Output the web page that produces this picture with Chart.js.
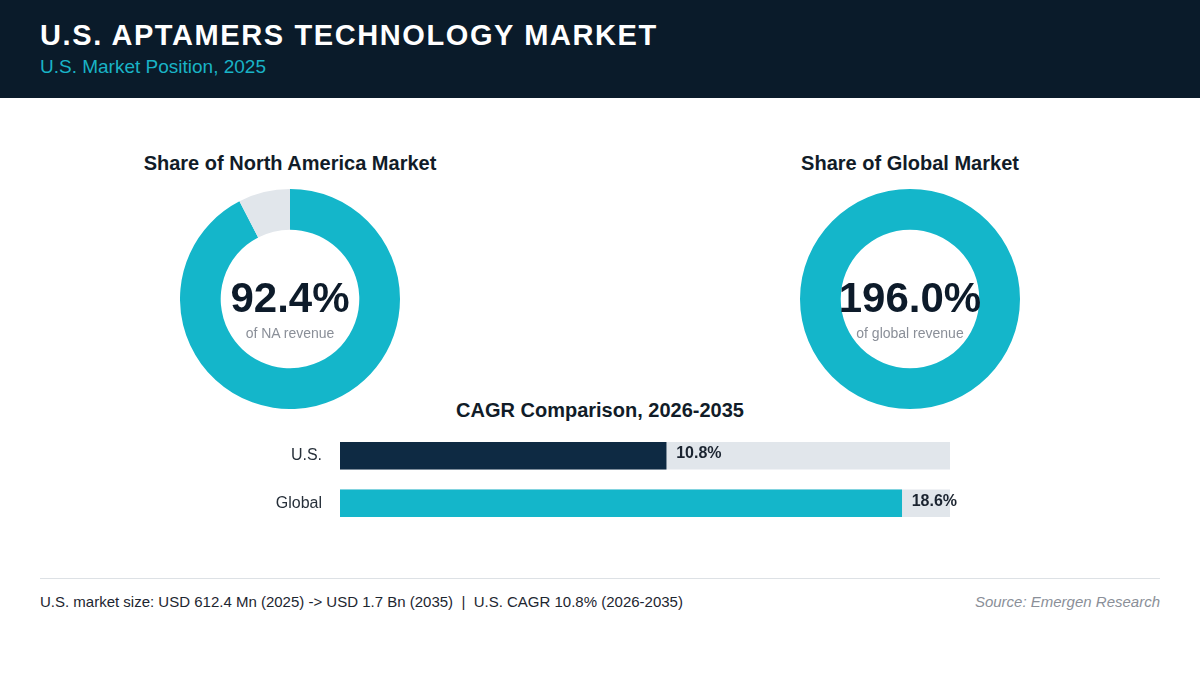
<!DOCTYPE html>
<html>
<head>
<meta charset="utf-8">
<script src="https://cdn.jsdelivr.net/npm/chart.js@4/dist/chart.umd.min.js"></script>
<style>
  html, body { margin: 0; padding: 0; }
  body {
    width: 1200px; height: 675px; position: relative; overflow: hidden;
    background: #ffffff; font-family: "Liberation Sans", Arial, sans-serif;
  }
  .header { position: absolute; left: 0; top: 0; width: 1200px; height: 98px; background: #0a1b2a; }
  .header h1 {
    position: absolute; left: 40px; top: 19px; margin: 0;
    font-size: 29px; font-weight: bold; color: #ffffff; letter-spacing: 1.6px;
  }
  .header .sub { position: absolute; left: 40px; top: 56px; font-size: 19px; color: #19b3c6; }
  .title { position: absolute; font-size: 20px; font-weight: bold; color: #111c28; text-align: center; }
  .donut { position: absolute; }
  .center { position: absolute; width: 220px; text-align: center; }
  .center .big { font-size: 42px; font-weight: bold; color: #0d1b2a; line-height: 44px; }
  .center .small { font-size: 14px; color: #8a8f98; margin-top: 5px; }
  #cagrChart { position: absolute; left: 240px; top: 432px; }
  .rule { position: absolute; left: 40px; top: 578px; width: 1120px; height: 1px; background: #dde1e5; }
  .foot { position: absolute; top: 593px; font-size: 15px; color: #1d2630; }
  .src { right: 40px; color: #8a8f98; font-style: italic; }
</style>
</head>
<body>
<div class="header">
  <h1>U.S. APTAMERS TECHNOLOGY MARKET</h1>
  <div class="sub">U.S. Market Position, 2025</div>
</div>

<div class="title" style="left:90px; top:152px; width:400px;">Share of North America Market</div>
<div class="title" style="left:710px; top:152px; width:400px;">Share of Global Market</div>

<canvas id="naDonut" class="donut" width="220" height="220" style="left:180px; top:189px;"></canvas>
<canvas id="globalDonut" class="donut" width="220" height="220" style="left:800px; top:189px;"></canvas>

<div class="center" style="left:180px; top:276px;">
  <div class="big" id="naValue"></div>
  <div class="small">of NA revenue</div>
</div>
<div class="center" style="left:800px; top:276px;">
  <div class="big" id="globalValue"></div>
  <div class="small">of global revenue</div>
</div>

<div class="title" style="left:400px; top:399px; width:400px;">CAGR Comparison, 2026-2035</div>
<canvas id="cagrChart" width="760" height="95"></canvas>

<div class="rule"></div>
<div class="foot" style="left:40px;">U.S. market size: USD 612.4 Mn (2025) -&gt; USD 1.7 Bn (2035) &nbsp;|&nbsp; U.S. CAGR 10.8% (2026-2035)</div>
<div class="foot src">Source: Emergen Research</div>

<script>
// share of market, percent
const shareLabels = ['North America', 'Global'];
const shareValues = [92.4, 196.0];

// CAGR comparison
const cagrRegions = ['U.S.', 'Global'];
const cagrValues = [10.8, 18.6];
const cagrAxisMax = 20.2;

const TEAL = '#14b6ca';
const NAVY = '#0e2a43';
const TRACK = '#e1e6eb';

function makeDonut(id, value) {
    const filled = Math.min(value, 100);
    return new Chart(document.getElementById(id), {
        type: 'doughnut',
        data: {
            labels: ['Share', 'Rest'],
            datasets: [{
                data: [filled, 100 - filled],
                backgroundColor: [TEAL, TRACK],
                borderWidth: 0,
            }],
        },
        options: {
            animation: false,
            responsive: false,
            cutout: '63%',
            plugins: { legend: { display: false }, tooltip: { enabled: false } },
        },
    });
}

makeDonut('naDonut', shareValues[0]);
makeDonut('globalDonut', shareValues[1]);
document.getElementById('naValue').textContent = shareValues[0].toFixed(1) + '%';
document.getElementById('globalValue').textContent = shareValues[1].toFixed(1) + '%';

// value labels after each bar
const barValueLabels = {
    id: 'barValueLabels',
    afterDatasetsDraw(chart) {
        const { ctx } = chart;
        ctx.save();
        ctx.font = 'bold 16px "Liberation Sans", Arial, sans-serif';
        ctx.fillStyle = '#1b2430';
        ctx.textAlign = 'left';
        ctx.textBaseline = 'middle';
        chart.getDatasetMeta(0).data.forEach((bar, i) => {
            ctx.fillText(cagrValues[i].toFixed(1) + '%', bar.x + 10, bar.y - 2);
        });
        ctx.restore();
    }
};

new Chart(document.getElementById('cagrChart'), {
    type: 'bar',
    data: {
        labels: cagrRegions,
        datasets: [
            {
                data: cagrValues,
                backgroundColor: [NAVY, TEAL],
                barThickness: 27,
                grouped: false,
                order: 1,
            },
            {
                data: cagrRegions.map(() => cagrAxisMax),
                backgroundColor: TRACK,
                barThickness: 27,
                grouped: false,
                order: 2,
            },
        ],
    },
    options: {
        animation: false,
        responsive: false,
        indexAxis: 'y',
        layout: { padding: { left: 0, right: 50, top: 0, bottom: 0 } },
        plugins: { legend: { display: false }, tooltip: { enabled: false } },
        scales: {
            x: { display: false, min: 0, max: cagrAxisMax },
            y: {
                grid: { display: false, drawTicks: false },
                border: { display: false },
                ticks: {
                    color: '#27303a',
                    padding: 18,
                    font: { family: "'Liberation Sans', Arial, sans-serif", size: 16 },
                },
                afterFit(scale) {
                    // fixed gutter for labels; no extra vertical padding from tick padding
                    scale.width = 100;
                    scale.paddingTop = 0;
                    scale.paddingBottom = 0;
                },
            },
        },
    },
    plugins: [barValueLabels],
});
</script>
</body>
</html>
